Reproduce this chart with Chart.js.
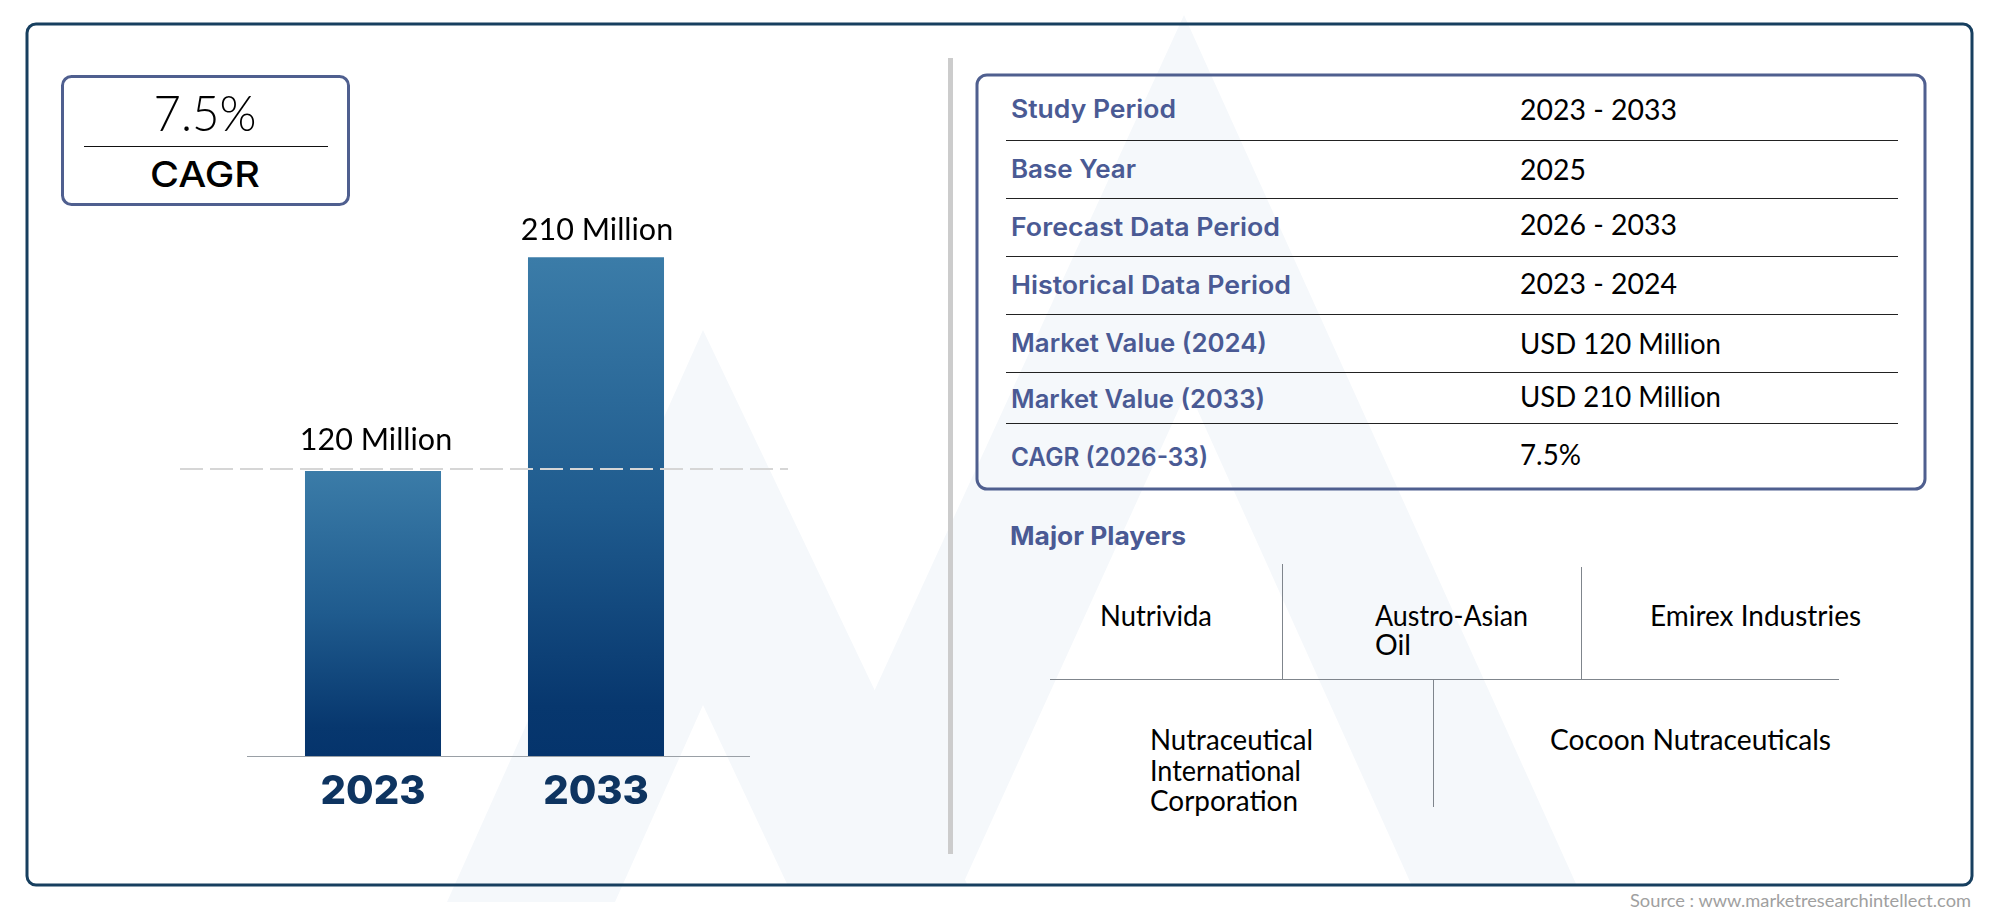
<!DOCTYPE html>
<html><head><meta charset="utf-8">
<style>
html,body{margin:0;padding:0;background:#fff;width:2000px;height:917px;overflow:hidden}
#bg{position:absolute;left:0;top:0}
#wrap{position:absolute;left:0;top:0;width:2000px;height:917px}
</style>
<script src="https://cdn.jsdelivr.net/npm/chart.js@4/dist/chart.umd.min.js"></script>
</head><body>
<svg id="bg" width="2000" height="917" viewBox="0 0 2000 917" xmlns="http://www.w3.org/2000/svg"></svg>
<div id="wrap"><canvas id="c" width="2000" height="917"></canvas></div>
<script>
const categories=["2023","2033"];
const marketValues=[120,210];
const valueLabels=["120 Million","210 Million"];
const tableLabels=["Study Period","Base Year","Forecast Data Period","Historical Data Period","Market Value (2024)","Market Value (2033)","CAGR (2026-33)"];
const tableValues=["2023 - 2033","2025","2026 - 2033","2023 - 2024","USD 120 Million","USD 210 Million","7.5%"];
const cagrValue="7.5%";
const cagrLabel="CAGR";
const playersTitle="Major Players";
const sourceText="Source : www.marketresearchintellect.com";

const NS="http://www.w3.org/2000/svg";
const svg=document.getElementById('bg');
function el(n,a,t){const e=document.createElementNS(NS,n);for(const k in a)e.setAttribute(k,a[k]);if(t!==undefined)e.textContent=t;svg.appendChild(e);return e;}
const BODY="Lato, 'Noto Sans', sans-serif", HEAD="Inter, 'Noto Sans', sans-serif";
function txt(s,x,y,size,font,weight,fill,w,anchor){const a={x,y,'font-size':size,'font-family':font,'font-weight':weight,fill};if(w){a.textLength=w;a.lengthAdjust='spacingAndGlyphs';}if(anchor)a['text-anchor']=anchor;return el('text',a,s);}
function line(x1,y1,x2,y2,stroke,sw){el('line',{x1,y1,x2,y2,stroke,'stroke-width':sw});}

// watermark
el('polygon',{points:"703,330 968,886 788,886 703,705 615,902 447,902",fill:"#f5f8fb"});
el('polygon',{points:"1184,15 1577,886 1412,886 1188,389 962,886 872,696",fill:"#f5f8fb"});
// frame
el('rect',{x:27,y:24,width:1945,height:861,rx:9,fill:"none",stroke:"#173f5f",'stroke-width':3});
// divider
el('rect',{x:948,y:58,width:5,height:796,fill:"#cccccc"});
// KPI box
el('rect',{x:62.5,y:76.5,width:286,height:128,rx:9,fill:"none",stroke:"#4f5f8f",'stroke-width':3});
line(84,146.5,328,146.5,"#111",1);
txt(cagrValue,205,131,49,BODY,300,"#000",103,'middle');
txt(cagrLabel,205,187,36,HEAD,500,"#000",110,'middle');
// table
el('rect',{x:977,y:75,width:948,height:414,rx:10,fill:"none",stroke:"#4f5f8f",'stroke-width':3});
const rowLines=[140.5,198.5,256.5,314.5,372.5,423.5];
rowLines.forEach(y=>line(1006,y,1898,y,"#222",1));
const labelBase=[117.5,177.5,235.5,293.5,351.5,407.5,465.5];
const valueBase=[120,180,235,294,354,407,465];
const labelW=[165,125,269,280,256,254,197];
const valueW=[157,66,157,157,201,201,61];
tableLabels.forEach((s,i)=>txt(s,1011,labelBase[i],25,HEAD,600,"#4a5a94",labelW[i]));
tableValues.forEach((s,i)=>txt(s,1520,valueBase[i],29,BODY,400,"#000",valueW[i]));
// major players
txt(playersTitle,1010,544.5,25,HEAD,700,"#4a5a94",176);
line(1282.5,564,1282.5,679,"#7f858c",1);
line(1581.5,567,1581.5,679,"#7f858c",1);
line(1050,679.5,1839,679.5,"#7f858c",1);
line(1433.5,680,1433.5,807,"#7f858c",1);
txt("Nutrivida",1100,625.5,29,BODY,400,"#000",112);
txt("Austro-Asian",1375,625.5,29,BODY,400,"#000",153);
txt("Oil",1375,655,29,BODY,400,"#000",36);
txt("Emirex Industries",1650,625.5,29,BODY,400,"#000",211);
txt("Nutraceutical",1150,750,29,BODY,400,"#000",163);
txt("International",1150,780.5,29,BODY,400,"#000",151);
txt("Corporation",1150,811,29,BODY,400,"#000",148);
txt("Cocoon Nutraceuticals",1550,750,29,BODY,400,"#000",281);
// source
txt(sourceText,1971,907,18,BODY,400,"#a0a0a0",341,'end');

const pxPerUnit=2.375, baseY=756, yMax=240;
const overlay={id:'overlay',
 afterDatasetsDraw(chart){
  const {ctx,scales:{x,y}}=chart;
  const y0=y.getPixelForValue(0);
  ctx.save();
  ctx.strokeStyle="#9aa0a6";ctx.lineWidth=1;
  ctx.beginPath();ctx.moveTo(247,y0+.5);ctx.lineTo(750,y0+.5);ctx.stroke();
  const yd=y.getPixelForValue(marketValues[0])-2;
  ctx.strokeStyle="#d6d6d6";ctx.lineWidth=2;ctx.setLineDash([23,7]);
  ctx.beginPath();ctx.moveTo(180,yd);ctx.lineTo(788,yd);ctx.stroke();
  ctx.setLineDash([]);
  ctx.fillStyle="#000";ctx.font="400 30.5px Lato, 'Noto Sans', sans-serif";ctx.textAlign='center';ctx.textBaseline='alphabetic';
  const off=[3,1], rise=[21,17];
  marketValues.forEach((v,i)=>ctx.fillText(valueLabels[i],x.getPixelForValue(i)+off[i],y.getPixelForValue(v)-rise[i]));
  ctx.restore();
 }};
Chart.defaults.animation=false;
new Chart(document.getElementById('c'),{
 type:'bar',
 data:{labels:categories,datasets:[{data:marketValues,categoryPercentage:1,barPercentage:0.61,borderWidth:0,
  backgroundColor(c){
   const ch=c.chart;if(!ch.chartArea||!c.parsed)return "#0e3f74";
   const y=ch.scales.y;const g=ch.ctx.createLinearGradient(0,y.getPixelForValue(c.parsed.y),0,y.getPixelForValue(0));
   g.addColorStop(0,"#3b7ca8");g.addColorStop(.5,"#1f5b8e");g.addColorStop(.9,"#07376e");g.addColorStop(1,"#05346c");return g;
  }}]},
 options:{responsive:false,devicePixelRatio:1,
  layout:{padding:{left:261.5,right:1292.5,top:baseY-yMax*pxPerUnit,bottom:0}},
  plugins:{legend:{display:false},tooltip:{enabled:false},title:{display:false}},
  scales:{
   x:{grid:{display:false},border:{display:false},afterFit(s){s.height=917-baseY;},
      ticks:{padding:4,color:"#0e3460",font:{family:"Inter, 'Noto Sans', sans-serif",size:40,weight:'800'},maxRotation:0}},
   y:{display:false,min:0,max:yMax}
  }},
 plugins:[overlay]});
</script>
</body></html>
